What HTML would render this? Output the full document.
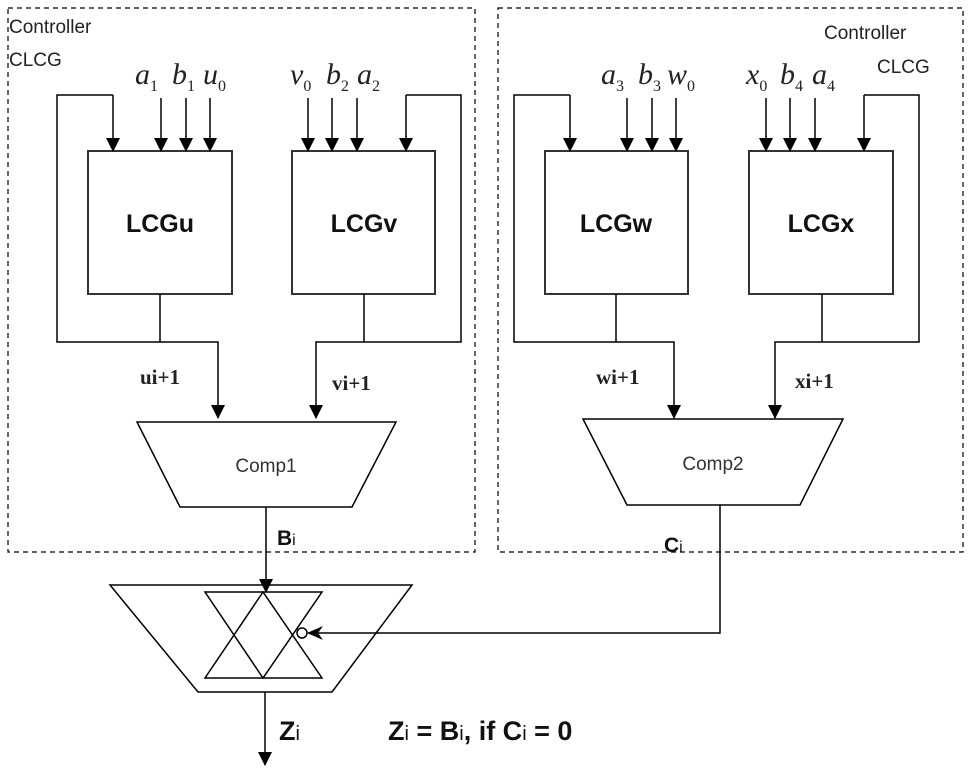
<!DOCTYPE html>
<html><head><meta charset="utf-8"><style>
html,body{margin:0;padding:0;background:#fff;}
svg{display:block;}
.s{font-family:"Liberation Sans",sans-serif;}
.r{font-family:"Liberation Serif",serif;}
</style></head><body>
<svg width="968" height="772" viewBox="0 0 968 772" xmlns="http://www.w3.org/2000/svg">
<defs>
<marker id="a" markerWidth="14" markerHeight="14" refX="13" refY="7" orient="auto" markerUnits="userSpaceOnUse" viewBox="0 0 14 14">
<path d="M0,0 L14,7 L0,14 Z" fill="#000"/></marker>
<marker id="al" markerWidth="16" markerHeight="14" refX="15" refY="7" orient="auto" markerUnits="userSpaceOnUse" viewBox="0 0 16 14">
<path d="M0,0 L16,7 L0,14 L5,7 Z" fill="#000"/></marker>
</defs>
<g fill="none" stroke="#000" stroke-width="1.5">
<rect x="8" y="8" width="467" height="544" stroke-dasharray="5,4" stroke-width="1.2"/>
<rect x="498" y="8" width="465" height="544" stroke-dasharray="5,4" stroke-width="1.2"/>
<rect x="88" y="151" width="144" height="143" stroke="#333" stroke-width="2"/>
<rect x="292" y="151" width="143" height="143" stroke="#333" stroke-width="2"/>
<rect x="545" y="151" width="143" height="143" stroke="#333" stroke-width="2"/>
<rect x="749" y="151" width="144" height="143" stroke="#333" stroke-width="2"/>
<path d="M113,95 H57 V342 H218 V418" marker-end="url(#a)"/>
<path d="M113,95 V151" marker-end="url(#a)"/>
<path d="M160,294 V342"/>
<path d="M161,98 V151" marker-end="url(#a)"/><path d="M186,98 V151" marker-end="url(#a)"/><path d="M210,98 V151" marker-end="url(#a)"/>
<path d="M308,98 V151" marker-end="url(#a)"/><path d="M332,98 V151" marker-end="url(#a)"/><path d="M357,98 V151" marker-end="url(#a)"/>
<path d="M406,95 H461 V342 H316 V418" marker-end="url(#a)"/>
<path d="M406,95 V151" marker-end="url(#a)"/>
<path d="M364,294 V342"/>
<path d="M570,95 H514 V342 H674 V418" marker-end="url(#a)"/>
<path d="M570,95 V151" marker-end="url(#a)"/>
<path d="M616,294 V342"/>
<path d="M627,98 V151" marker-end="url(#a)"/><path d="M652,98 V151" marker-end="url(#a)"/><path d="M676,98 V151" marker-end="url(#a)"/>
<path d="M766,98 V151" marker-end="url(#a)"/><path d="M790,98 V151" marker-end="url(#a)"/><path d="M815,98 V151" marker-end="url(#a)"/>
<path d="M864,95 H919 V342 H775 V418" marker-end="url(#a)"/>
<path d="M864,95 V151" marker-end="url(#a)"/>
<path d="M822,294 V342"/>
<path d="M137,422 H396 L352,507 H180 Z"/>
<path d="M583,419 H843 L800,505 H627 Z"/>
<path d="M266,507 V592" marker-end="url(#a)"/>
<path d="M720,505 V633 H308" marker-end="url(#al)"/>
<path d="M110,585 H412 L332,692 H198 Z"/>
<path d="M205,592 H322 L263,678 Z"/>
<path d="M205,678 H322 L263,592 Z"/>
<circle cx="302" cy="633" r="5" fill="#fff"/>
<path d="M265,692 V765" marker-end="url(#a)"/>
</g>
<g class="s" font-size="19" fill="#222">
<text x="9" y="33">Controller</text><text x="9" y="66">CLCG</text>
<text x="824" y="39">Controller</text><text x="877" y="73">CLCG</text>
</g>
<g class="s" font-size="25" font-weight="bold" fill="#111" text-anchor="middle">
<text x="160" y="232">LCGu</text><text x="364" y="232">LCGv</text>
<text x="616" y="232">LCGw</text><text x="821" y="232">LCGx</text>
</g>
<g class="s" font-size="19" fill="#333" text-anchor="middle">
<text x="266" y="472">Comp1</text><text x="713" y="470">Comp2</text>
</g>
<g class="r" font-size="30" font-style="italic" fill="#222">
<text x="135" y="84">a<tspan font-size="16" dy="7" font-style="normal">1</tspan></text>
<text x="172" y="84">b<tspan font-size="16" dy="7" font-style="normal">1</tspan></text>
<text x="203" y="84">u<tspan font-size="16" dy="7" font-style="normal">0</tspan></text>
<text x="290" y="84">v<tspan font-size="16" dy="7" font-style="normal">0</tspan></text>
<text x="326" y="84">b<tspan font-size="16" dy="7" font-style="normal">2</tspan></text>
<text x="357" y="84">a<tspan font-size="16" dy="7" font-style="normal">2</tspan></text>
<text x="601" y="84">a<tspan font-size="16" dy="7" font-style="normal">3</tspan></text>
<text x="638" y="84">b<tspan font-size="16" dy="7" font-style="normal">3</tspan></text>
<text x="667" y="84">w<tspan font-size="16" dy="7" font-style="normal">0</tspan></text>
<text x="746" y="84">x<tspan font-size="16" dy="7" font-style="normal">0</tspan></text>
<text x="780" y="84">b<tspan font-size="16" dy="7" font-style="normal">4</tspan></text>
<text x="812" y="84">a<tspan font-size="16" dy="7" font-style="normal">4</tspan></text>
</g>
<g class="r" font-size="21" font-weight="bold" fill="#222">
<text x="140" y="384">ui+1</text>
<text x="332" y="390">vi+1</text>
<text x="596" y="384">wi+1</text>
<text x="795" y="388">xi+1</text>
</g>
<g class="s" font-size="21" font-weight="bold" fill="#111">
<text x="277" y="545">B<tspan font-weight="normal" font-size="16">i</tspan></text>
<text x="664" y="552">C<tspan font-weight="normal" font-size="16">i</tspan></text>
</g>
<g class="s" font-size="27" font-weight="bold" fill="#111">
<text x="279" y="740">Z<tspan font-weight="normal" font-size="20">i</tspan></text>
<text x="388" y="740">Z<tspan font-weight="normal" font-size="20">i</tspan> = B<tspan font-weight="normal" font-size="20">i</tspan>, if C<tspan font-weight="normal" font-size="20">i</tspan> = 0</text>
</g>
</svg>
</body></html>
